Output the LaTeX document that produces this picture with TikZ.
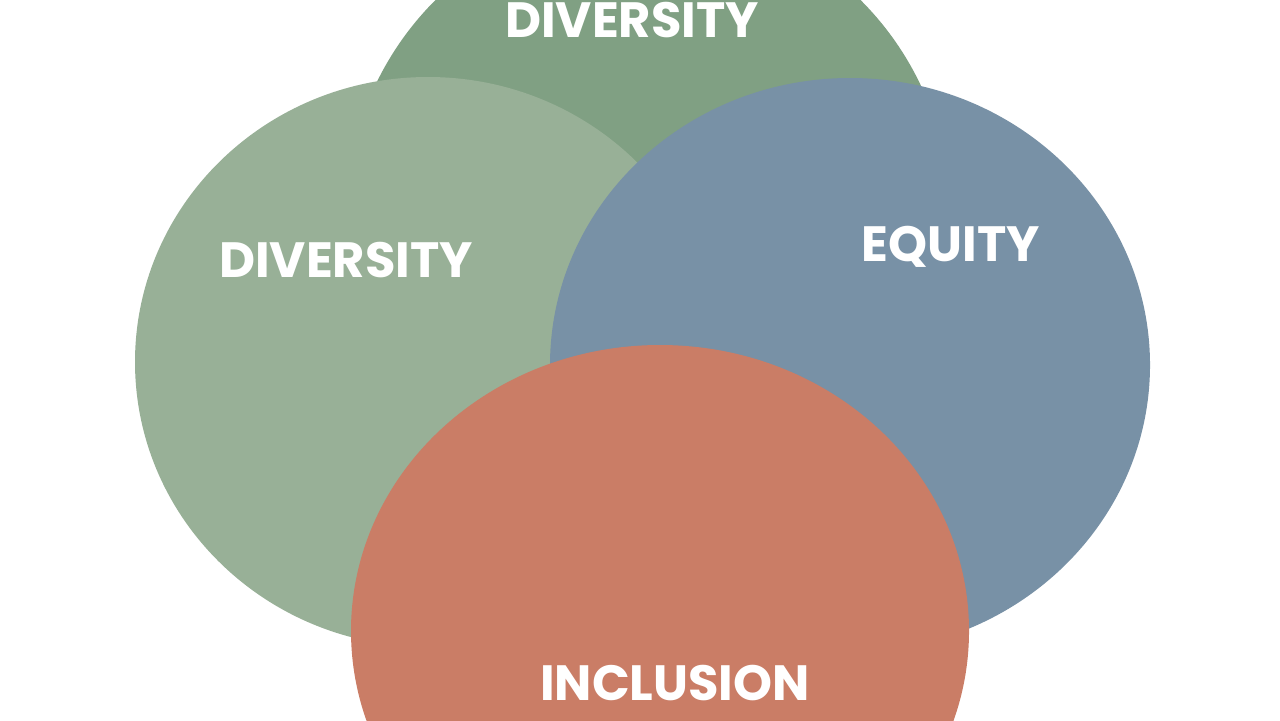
\documentclass[tikz,border=0pt]{standalone}
\usepackage{fontspec}
\setmainfont{Poppins}
\usepackage{xcolor}
\usepackage{tikz}
\usetikzlibrary{positioning}

\definecolor{divdark}{HTML}{80A083}
\definecolor{divlight}{HTML}{98B097}
\definecolor{eqblue}{HTML}{7891A6}
\definecolor{incsalmon}{HTML}{CA7D66}

\tikzset{
    label/.style={text=white, font=\fontsize{14.1}{16}\selectfont\bfseries, inner sep=0pt}
}

\begin{document}
\begin{tikzpicture}[x=0.01cm, y=0.01cm]
    \useasboundingbox (0,0) rectangle (1280,720);
    \clip (0,0) rectangle (1280,720);
    \fill[white] (0,0) rectangle (1280,720);

    \fill[divdark] (648,504) ellipse [x radius=302, y radius=304];
    \fill[divlight] (428,358) ellipse [x radius=293, y radius=285];
    \fill[eqblue] (850,355) ellipse [x radius=300, y radius=287];
    \fill[incsalmon] (660,89) ellipse [x radius=309, y radius=286];

    \node[label] (divtop) at (632,700) {DIVERSITY};
    \node[label] (divleft) at (346,460) {DIVERSITY};
    \node[label] (equity) at (951,473) {EQUITY};
    \node[label] (inclusion) at (675,37) {INCLUSION};
\end{tikzpicture}
\end{document}
